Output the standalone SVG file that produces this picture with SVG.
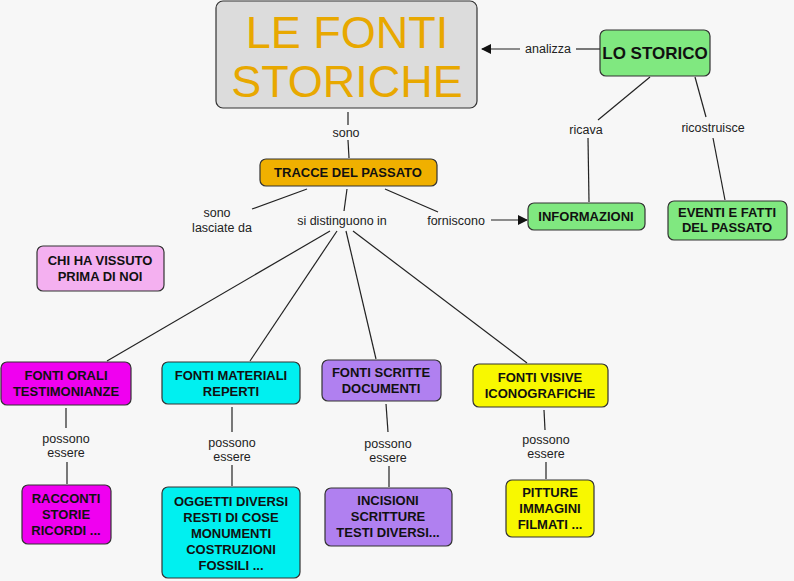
<svg xmlns="http://www.w3.org/2000/svg" width="794" height="581" viewBox="0 0 794 581">
<style>
.n{stroke:#333;stroke-width:1.2}
.t{font-family:"Liberation Sans",Arial,sans-serif;font-weight:bold;font-size:13px;fill:#111;text-anchor:middle}
.l{font-family:"Liberation Sans",Arial,sans-serif;font-size:12.5px;fill:#222;text-anchor:middle}
.c line{stroke:#222;stroke-width:1.2}
</style>
<defs><marker id="a" markerWidth="10" markerHeight="10" refX="9" refY="5" orient="auto" markerUnits="userSpaceOnUse"><path d="M0,0L10,5L0,10z" fill="#111"/></marker></defs>
<rect width="794" height="581" fill="#f7f7f7"/>
<g class="c">
<line x1="348" y1="112" x2="348" y2="125"/><line x1="348" y1="140" x2="349" y2="158"/>
<line x1="600" y1="49" x2="576" y2="49"/><line x1="520" y1="49" x2="482" y2="49" marker-end="url(#a)"/>
<line x1="650" y1="77" x2="598" y2="120"/><line x1="588" y1="138" x2="589" y2="202"/>
<line x1="695" y1="77" x2="706" y2="117"/><line x1="713" y1="138" x2="725" y2="200"/>
<line x1="307" y1="189" x2="252" y2="209"/>
<line x1="347" y1="189" x2="344" y2="211"/>
<line x1="385" y1="189" x2="438" y2="212"/><line x1="491" y1="220" x2="527" y2="220" marker-end="url(#a)"/>
<line x1="330" y1="231" x2="107" y2="361"/><line x1="337" y1="231" x2="250" y2="361"/>
<line x1="346" y1="231" x2="376" y2="359"/><line x1="353" y1="231" x2="527" y2="363"/>
<line x1="66" y1="408" x2="66" y2="428"/><line x1="67" y1="462" x2="67" y2="484"/>
<line x1="232" y1="407" x2="232" y2="432"/><line x1="232" y1="465" x2="232" y2="486"/>
<line x1="386" y1="404" x2="388" y2="432"/><line x1="389" y1="466" x2="389" y2="487"/>
<line x1="544" y1="410" x2="545" y2="430"/><line x1="546" y1="462" x2="546" y2="479"/>
<text class="l" x="346" y="137">sono</text>
<text class="l" x="548" y="53">analizza</text>
<text class="l" x="586" y="134">ricava</text>
<text class="l" x="713" y="132">ricostruisce</text>
<text class="l" x="217" y="217">sono</text><text class="l" x="222" y="232">lasciate da</text>
<text class="l" x="342" y="225">si distinguono in</text>
<text class="l" x="456" y="225">forniscono</text>
<text class="l" x="66" y="443">possono</text><text class="l" x="66" y="457">essere</text>
<text class="l" x="232" y="447">possono</text><text class="l" x="232" y="461">essere</text>
<text class="l" x="388" y="448">possono</text><text class="l" x="388" y="462">essere</text>
<text class="l" x="546" y="444">possono</text><text class="l" x="546" y="458">essere</text>
</g>
<g id="title"><rect class="n" x="216" y="1" width="261" height="107" rx="7" fill="#dcdcdc"/>
<text x="347" y="48" font-family="Liberation Sans,Arial,sans-serif" font-size="45" fill="#e8a800" text-anchor="middle">LE FONTI</text>
<text x="347" y="97" font-family="Liberation Sans,Arial,sans-serif" font-size="45" fill="#e8a800" text-anchor="middle">STORICHE</text></g>
<g id="storico"><rect class="n" x="600" y="30" width="110" height="46" rx="6" fill="#80e880"/><text class="t" x="655" y="59" style="font-size:17px">LO STORICO</text></g>
<g id="tracce"><rect class="n" x="260" y="159" width="177" height="27" rx="6" fill="#f0b000"/><text class="t" x="348" y="177">TRACCE DEL PASSATO</text></g>
<g id="info"><rect class="n" x="528" y="203" width="117" height="27" rx="6" fill="#80e880"/><text class="t" x="586" y="221">INFORMAZIONI</text></g>
<g id="eventi"><rect class="n" x="668" y="201" width="119" height="39" rx="6" fill="#80e880"/><text class="t" x="727" y="217">EVENTI E FATTI</text><text class="t" x="727" y="232">DEL PASSATO</text></g>
<g id="chi"><rect class="n" x="37" y="246" width="127" height="45" rx="6" fill="#f4b0f0"/><text class="t" x="100" y="265">CHI HA VISSUTO</text><text class="t" x="100" y="281">PRIMA DI NOI</text></g>
<g id="orali"><rect class="n" x="1" y="362" width="130" height="43" rx="6" fill="#f000f0"/><text class="t" x="66" y="380">FONTI ORALI</text><text class="t" x="66" y="396">TESTIMONIANZE</text></g>
<g id="materiali"><rect class="n" x="162" y="362" width="138" height="42" rx="6" fill="#00f0f0"/><text class="t" x="231" y="380">FONTI MATERIALI</text><text class="t" x="231" y="396">REPERTI</text></g>
<g id="scritte"><rect class="n" x="322" y="360" width="119" height="41" rx="6" fill="#b080f0"/><text class="t" x="381" y="377">FONTI SCRITTE</text><text class="t" x="381" y="393">DOCUMENTI</text></g>
<g id="visive"><rect class="n" x="473" y="364" width="135" height="43" rx="6" fill="#f8f800"/><text class="t" x="540" y="382">FONTI VISIVE</text><text class="t" x="540" y="398">ICONOGRAFICHE</text></g>
<g id="racconti"><rect class="n" x="22" y="485" width="89" height="59" rx="6" fill="#f000f0"/><text class="t" x="66" y="503">RACCONTI</text><text class="t" x="66" y="519">STORIE</text><text class="t" x="66" y="535">RICORDI ...</text></g>
<g id="oggetti"><rect class="n" x="162" y="487" width="138" height="91" rx="6" fill="#00f0f0"/><text class="t" x="231" y="506">OGGETTI DIVERSI</text><text class="t" x="231" y="522">RESTI DI COSE</text><text class="t" x="231" y="538">MONUMENTI</text><text class="t" x="231" y="554">COSTRUZIONI</text><text class="t" x="231" y="570">FOSSILI ...</text></g>
<g id="incisioni"><rect class="n" x="325" y="488" width="127" height="58" rx="6" fill="#b080f0"/><text class="t" x="388" y="505">INCISIONI</text><text class="t" x="388" y="521">SCRITTURE</text><text class="t" x="388" y="537">TESTI DIVERSI...</text></g>
<g id="pitture"><rect class="n" x="506" y="480" width="88" height="57" rx="6" fill="#f8f800"/><text class="t" x="550" y="497">PITTURE</text><text class="t" x="550" y="513">IMMAGINI</text><text class="t" x="550" y="529">FILMATI ...</text></g>
</svg>
